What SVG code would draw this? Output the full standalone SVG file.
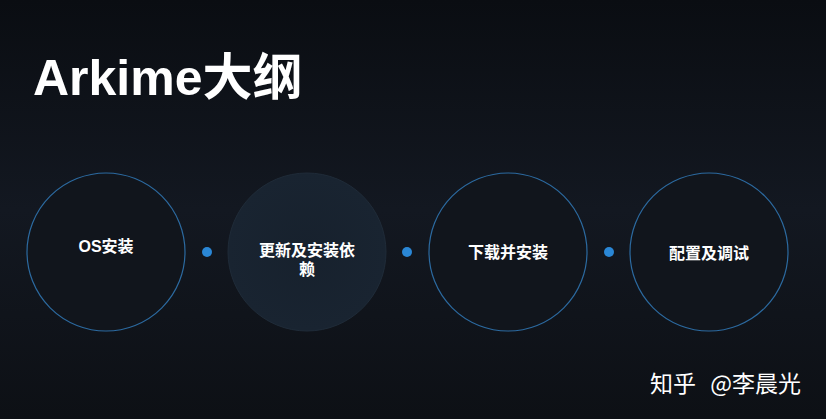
<svg xmlns="http://www.w3.org/2000/svg" width="826" height="419" viewBox="0 0 826 419">
<defs>
<linearGradient id="bg" x1="0" y1="0" x2="0" y2="1">
<stop offset="0" stop-color="#0a0d12"/>
<stop offset="0.5" stop-color="#131821"/>
<stop offset="1" stop-color="#0d1015"/>
</linearGradient>
<radialGradient id="fillc" cx="0.5" cy="0.5" r="0.5">
<stop offset="0" stop-color="#17212d"/>
<stop offset="1" stop-color="#192431"/>
</radialGradient>
</defs>
<style>
.ring{fill:#11151c;stroke:#2c6aa0;stroke-width:1.2}
.solid{fill:url(#fillc);stroke:#1f2b38;stroke-width:1}
.dot{fill:#2a87d6}
.lbl{font-family:"Liberation Sans","Noto Sans CJK SC",sans-serif;font-weight:bold;font-size:16px;fill:#ffffff;text-anchor:middle}
.title{font-family:"Liberation Sans","Noto Sans CJK SC",sans-serif;font-weight:bold;font-size:50px;fill:#ffffff}
.wm{font-family:"Noto Sans CJK SC",sans-serif;font-size:23px;fill:#ffffff}
</style>
<rect width="826" height="419" fill="url(#bg)"/>
<text class="title" x="33" y="95">Arkime大纲</text>
<g id="connectors">
<circle class="dot" cx="207" cy="252" r="5"/>
<circle class="dot" cx="407" cy="252" r="5"/>
<circle class="dot" cx="609" cy="252" r="5"/>
</g>
<g id="n1">
<circle class="ring" cx="106" cy="252" r="79"/>
<text class="lbl" x="106" y="252">OS安装</text>
</g>
<g id="n2">
<circle class="solid" cx="307" cy="252" r="79"/>
<text class="lbl" x="307" y="256">更新及安装依</text>
<text class="lbl" x="307" y="275">赖</text>
</g>
<g id="n3">
<circle class="ring" cx="508" cy="252" r="79"/>
<text class="lbl" x="508" y="258">下载并安装</text>
</g>
<g id="n4">
<circle class="ring" cx="709" cy="252" r="79"/>
<text class="lbl" x="709" y="259">配置及调试</text>
</g>
<text class="wm" x="650" y="392">知乎</text>
<text class="wm" x="801" y="392" text-anchor="end">@李晨光</text>
</svg>
